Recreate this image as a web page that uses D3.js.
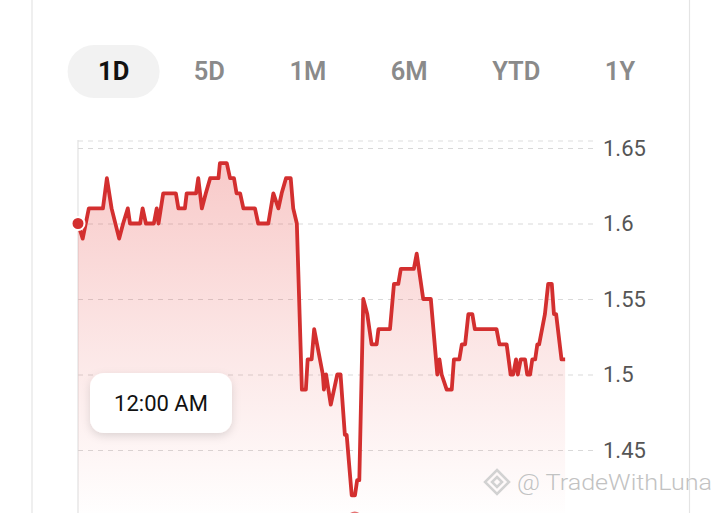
<!DOCTYPE html>
<html>
<head>
<meta charset="utf-8">
<script src="https://cdn.jsdelivr.net/npm/d3@7"></script>
<style>
  body { margin: 0; background: #fff; }
  svg { display: block; font-family: Roboto, "Noto Sans", sans-serif; }
</style>
</head>
<body>
<svg id="chart" width="720" height="513"></svg>
<script>
// range buttons
const ranges = ["1D", "5D", "1M", "6M", "YTD", "1Y"]
const activeRange = "1D"

// price ticks
const yTicks = [1.45, 1.5, 1.55, 1.6, 1.65]

// minutes since 12:00 AM and price
const minutes = [0, 13, 30, 69, 80, 93, 114, 125, 138, 144, 172, 179, 188, 210, 218, 223, 236, 271, 278, 296,
  301, 327, 333, 343, 354, 366, 389, 393, 412, 421, 432, 439, 449, 458, 490, 499, 527, 541, 555, 564,
  576, 589, 596, 606, 620, 631, 636, 647, 654, 678, 681, 687, 700, 709, 718, 727, 739, 744, 758, 767,
  773, 779, 790, 801, 813, 827, 832, 864, 875, 887, 894, 930, 938, 956, 977, 995, 1001, 1007, 1021, 1035,
  1041, 1056, 1063, 1072, 1081, 1092, 1099, 1159, 1167, 1187, 1198, 1205, 1213, 1218, 1226, 1238, 1244, 1252, 1258, 1266,
  1272, 1277, 1293, 1302, 1312, 1318, 1324, 1339, 1349]
const prices = [1.60, 1.59, 1.61, 1.61, 1.63, 1.61, 1.59, 1.60, 1.61, 1.60, 1.60, 1.61, 1.60, 1.60, 1.61, 1.60, 1.62, 1.62, 1.61, 1.61,
  1.62, 1.62, 1.63, 1.61, 1.62, 1.63, 1.63, 1.64, 1.64, 1.63, 1.63, 1.62, 1.62, 1.61, 1.61, 1.60, 1.60, 1.62, 1.61, 1.62,
  1.63, 1.63, 1.61, 1.60, 1.49, 1.49, 1.51, 1.51, 1.53, 1.50, 1.49, 1.50, 1.48, 1.49, 1.50, 1.50, 1.46, 1.46, 1.42, 1.42,
  1.43, 1.43, 1.55, 1.54, 1.52, 1.52, 1.53, 1.53, 1.56, 1.56, 1.57, 1.57, 1.58, 1.55, 1.55, 1.50, 1.51, 1.50, 1.49, 1.49,
  1.51, 1.51, 1.52, 1.52, 1.54, 1.54, 1.53, 1.53, 1.52, 1.52, 1.50, 1.50, 1.51, 1.50, 1.51, 1.51, 1.50, 1.50, 1.51, 1.51,
  1.52, 1.52, 1.54, 1.56, 1.56, 1.54, 1.54, 1.51, 1.51]

const tooltipText = "12:00 AM"
const watermark = "@ TradeWithLuna"

let data = []
for (let i = 0; i < prices.length; i++) {
  data[i] = {"t": minutes[i], "p": prices[i]}
}

let svg = d3.select("#chart")

// card edges
svg.append("line").attr("x1", 32).attr("x2", 32).attr("y1", 0).attr("y2", 513)
  .attr("stroke", "#e4e4e4").attr("stroke-width", 1.2)
svg.append("line").attr("x1", 689.5).attr("x2", 689.5).attr("y1", 0).attr("y2", 513)
  .attr("stroke", "#e4e4e4").attr("stroke-width", 1.2)

// range selector: labels laid out with equal gaps between them
let pill = svg.append("rect")
  .attr("y", 45)
  .attr("width", 92).attr("height", 53)
  .attr("rx", 26.5)
  .attr("fill", "#f2f2f2")

let labels = svg.selectAll(".range")
  .data(ranges)
  .enter()
  .append("text")
  .attr("class", "range")
  .attr("y", 80)
  .attr("font-size", "25.5px")
  .attr("font-weight", (d) => d == activeRange ? 700 : 600)
  .attr("fill", (d) => d == activeRange ? "#111" : "#8a8a8a")
  .text((d) => d)

let cursor = 98
labels.each(function (d) {
  let w = this.getComputedTextLength()
  d3.select(this).attr("x", cursor)
  if (d == activeRange) pill.attr("x", cursor + w / 2 - 46)
  cursor += w + 64.5
})

let x = d3.scaleLinear().domain([0, 1440]).range([78, 598])
let y = d3.scaleLinear().domain([1.45, 1.65]).range([450, 148])

let defs = svg.append("defs")
let grad = defs.append("linearGradient")
  .attr("id", "fade")
  .attr("gradientUnits", "userSpaceOnUse")
  .attr("x1", 0).attr("x2", 0)
  .attr("y1", y(1.65)).attr("y2", 520)
grad.append("stop").attr("offset", "0%").attr("stop-color", "#e53935").attr("stop-opacity", 0.28)
grad.append("stop").attr("offset", "55%").attr("stop-color", "#e53935").attr("stop-opacity", 0.12)
grad.append("stop").attr("offset", "100%").attr("stop-color", "#e53935").attr("stop-opacity", 0.0)

let shadow = defs.append("filter").attr("id", "shadow")
  .attr("x", "-20%").attr("y", "-30%").attr("width", "140%").attr("height", "170%")
shadow.append("feDropShadow")
  .attr("dx", 0).attr("dy", 3).attr("stdDeviation", 4)
  .attr("flood-color", "#000").attr("flood-opacity", 0.13)

// left edge of plot
svg.append("line")
  .attr("x1", x(0)).attr("x2", x(0))
  .attr("y1", 140).attr("y2", 513)
  .attr("stroke", "#e2e2e2").attr("stroke-width", 1.2)

// grid
svg.append("line")
  .attr("x1", x(0)).attr("x2", x(1440))
  .attr("y1", 141).attr("y2", 141)
  .attr("stroke", "#dedede").attr("stroke-width", 1.2)
  .attr("stroke-dasharray", "5,5")

let grid = svg.append("g")
  .attr("transform", "translate(" + x(0) + ",0)")
  .call(d3.axisRight(y)
    .tickValues(yTicks)
    .tickSize(x(1440) - x(0))
    .tickFormat((d) => d3.format("~g")(d)))
grid.select(".domain").remove()
grid.selectAll(".tick line")
  .attr("stroke", "#d9d9d9")
  .attr("stroke-width", 1.2)
  .attr("stroke-dasharray", "5,5")
grid.selectAll(".tick text")
  .attr("x", x(1440) - x(0) + 5)
  .attr("fill", "#555")
  .attr("font-size", "22px")
  .attr("font-family", "Roboto, sans-serif")

// area + line
svg.append("path")
  .datum(data)
  .attr("fill", "url(#fade)")
  .attr("d", d3.area()
    .x((d) => x(d.t))
    .y0(520)
    .y1((d) => y(d.p)))

svg.append("path")
  .datum(data)
  .attr("fill", "none")
  .attr("stroke", "#d32f2f")
  .attr("stroke-width", 3.8)
  .attr("stroke-linejoin", "round")
  .attr("d", d3.line()
    .x((d) => x(d.t))
    .y((d) => y(d.p)))

// first point marker
svg.append("circle")
  .attr("cx", x(data[0].t))
  .attr("cy", y(data[0].p))
  .attr("r", 6.5)
  .attr("fill", "#d32f2f")
  .attr("stroke", "#fff")
  .attr("stroke-width", 2)

// low marker, mostly below the frame
let low = data.reduce((a, b) => b.p < a.p ? b : a)
svg.append("circle")
  .attr("cx", x(low.t) + 3)
  .attr("cy", 519)
  .attr("r", 7.5)
  .attr("fill", "#e57373")

// tooltip
svg.append("rect")
  .attr("x", 90).attr("y", 373)
  .attr("width", 142).attr("height", 60)
  .attr("rx", 14)
  .attr("fill", "#fff")
  .attr("filter", "url(#shadow)")
svg.append("text")
  .attr("x", 161).attr("y", 411)
  .attr("text-anchor", "middle")
  .attr("font-size", "22px")
  .attr("fill", "#111")
  .text(tooltipText)

// watermark
let wm = svg.append("g").attr("transform", "translate(497,482)")
wm.append("path")
  .attr("d", "M0,-12 L12,0 L0,12 L-12,0 Z M0,-5 L5,0 L0,5 L-5,0 Z")
  .attr("fill", "none")
  .attr("stroke", "#d2d2d2")
  .attr("stroke-width", 2.5)
wm.append("text")
  .attr("x", 20).attr("y", 8)
  .attr("font-size", "22px")
  .attr("font-weight", 300)
  .attr("fill", "#c2c2c2")
  .attr("stroke", "#fff")
  .attr("stroke-width", 0.6)
  .attr("paint-order", "stroke")
  .attr("textLength", 195)
  .attr("lengthAdjust", "spacingAndGlyphs")
  .text(watermark)
</script>
</body>
</html>
